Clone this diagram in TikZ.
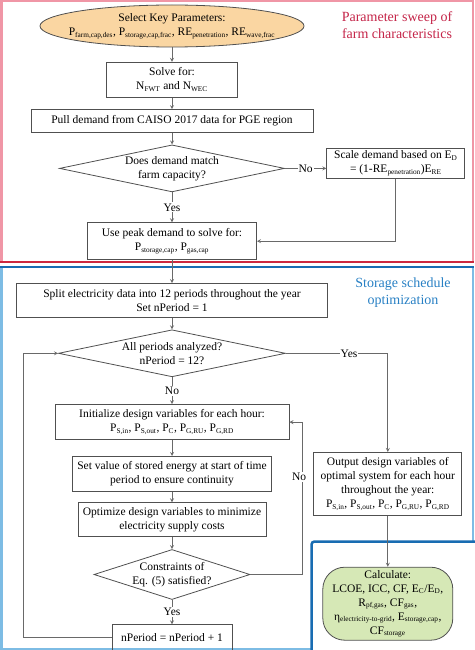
\documentclass[tikz,border=0pt]{standalone}
\usepackage{fontspec}
\setmainfont{Liberation Serif}
\usepackage{tikz}
\usetikzlibrary{shapes.geometric, arrows, positioning, calc}

\definecolor{boxline}{RGB}{80,80,80}
\definecolor{arrowgray}{RGB}{105,105,105}
\definecolor{paramfill}{RGB}{250,214,162}
\definecolor{calcfill}{RGB}{214,232,182}
\definecolor{sweeppink}{RGB}{240,150,166}
\definecolor{sweepred}{RGB}{204,40,62}
\definecolor{sweeptext}{RGB}{196,36,72}
\definecolor{optlight}{RGB}{125,188,228}
\definecolor{optdark}{RGB}{24,108,178}
\definecolor{opttext}{RGB}{40,128,196}

\newcommand{\subtxt}[1]{\textsubscript{\fontsize{7.3}{8}\selectfont #1}}

\begin{document}
\begin{tikzpicture}[
    x=1pt, y=1pt,
    font=\fontsize{11.5}{14}\selectfont,
    box/.style={rectangle, draw=boxline, line width=0.8pt, align=center, inner sep=1pt},
    decision/.style={diamond, draw=boxline, line width=0.8pt, align=center, aspect=4.5, inner xsep=-4pt, inner ysep=-2pt},
    params/.style={ellipse, draw=boxline, line width=0.8pt, fill=paramfill, align=center, inner xsep=-26pt, inner ysep=-4pt},
    calcbox/.style={rectangle, rounded corners=22pt, draw=boxline, line width=0.8pt, fill=calcfill, align=center, inner sep=1pt},
    arrow/.style={->, >=stealth, draw=arrowgray, line width=0.8pt},
    lbl/.style={fill=white, inner sep=1pt},
    title/.style={font=\fontsize{14}{17}\selectfont, align=center}
]
\useasboundingbox (0,0) rectangle (474,-650);

% Frames
\draw [sweeppink, line width=2.5pt] (1.25,-262) -- (1.25,-1.25) -- (472.75,-1.25) -- (472.75,-262);
\draw [sweepred, line width=2.2pt] (0,-262) -- (474,-262);
\draw [optlight, line width=2.5pt] (311.5,-648.75) -- (1.25,-648.75) -- (1.25,-267);
\draw [optlight, line width=2.5pt] (472.75,-267) -- (472.75,-541.5);
\draw [optdark, line width=2.2pt] (0,-267) -- (474,-267);
\draw [optdark, line width=2.5pt, rounded corners=3pt] (311.5,-652) -- (311.5,-541.5) -- (476,-541.5);

\node (sweeptitle) [title, text=sweeptext] at (397,-25.5) {Parameter sweep of\\ farm characteristics};
\node (opttitle) [title, text=opttext] at (403,-293) {Storage schedule\\ optimization};

% Parameter sweep
\node (select) [params, minimum width=264pt, minimum height=42pt] at (172,-26) {Select Key Parameters:\\ P\subtxt{farm,cap,des}, P\subtxt{storage,cap,frac}, RE\subtxt{penetration}, RE\subtxt{wave,frac}};
\node (solve) [box, below=14.5pt of select, minimum width=131pt, minimum height=35pt] {Solve for:\\ N\subtxt{FWT} and N\subtxt{WEC}};
\node (pull) [box, below=11.5pt of solve, minimum width=282pt, minimum height=23pt] {Pull demand from CAISO 2017 data for PGE region};
\node (match) [decision, below=11.5pt of pull, minimum width=225pt, minimum height=47pt] {Does demand match\\ farm capacity?};
\node (scale) [box, right=41.5pt of match, yshift=5pt, minimum width=138pt, minimum height=30pt] {Scale demand based on E\subtxt{D}\\ = (1-RE\subtxt{penetration})E\subtxt{RE}};
\node (peak) [box, below=30pt of match, minimum width=169pt, minimum height=37pt] {Use peak demand to solve for:\\ P\subtxt{storage,cap}, P\subtxt{gas,cap}};

% Storage schedule
\node (split) [box, below=23pt of peak, minimum width=311pt, minimum height=34pt] {Split electricity data into 12 periods throughout the year\\ Set nPeriod = 1};
\node (allper) [decision, below=11.5pt of split, minimum width=227pt, minimum height=47pt] {All periods analyzed?\\ nPeriod = 12?};
\node (init) [box, below=27pt of allper, minimum width=234pt, minimum height=35pt] {Initialize design variables for each hour:\\ P\subtxt{S,in}, P\subtxt{S,out}, P\subtxt{C}, P\subtxt{G,RU}, P\subtxt{G,RD}};
\node (setval) [box, below=16pt of init, minimum width=199pt, minimum height=35pt] {Set value of stored energy at start of time\\ period to ensure continuity};
\node (optim) [box, below=10.5pt of setval, minimum width=188pt, minimum height=34pt] {Optimize design variables to minimize\\ electricity supply costs};
\node (constr) [decision, aspect=3, below=12pt of optim, minimum width=156pt, minimum height=50pt] {Constraints of\\ Eq. (5) satisfied?};
\node (incr) [box, below=24.5pt of constr, minimum width=120pt, minimum height=26pt] {nPeriod = nPeriod + 1};
\node (output) [box, right=41.5pt of setval, yshift=-10pt, minimum width=148pt, minimum height=63pt] {Output design variables of\\ optimal system for each hour\\ throughout the year:\\ P\subtxt{S,in}, P\subtxt{S,out}, P\subtxt{C}, P\subtxt{G,RU}, P\subtxt{G,RD}};
\node (calc) [calcbox, below=51pt of output, minimum width=130pt, minimum height=73pt] {Calculate:\\ LCOE, ICC, CF, E\subtxt{C}/E\subtxt{D},\\ R\subtxt{pf,gas}, CF\subtxt{gas},\\ η\subtxt{electricity-to-grid}, E\subtxt{storage,cap},\\ CF\subtxt{storage}};

% Connections
\draw [arrow] (select) -- (solve);
\draw [arrow] (solve) -- (pull);
\draw [arrow] (pull) -- (match);
\draw [arrow] (match.east) -- node[lbl] {No} (match.east -| scale.west);
\draw [arrow] (match) -- node[lbl] {Yes} (peak);
\draw [arrow] (scale.south) |- (peak.east);
\draw [arrow] (peak) -- (split);
\draw [arrow] (split) -- (allper);
\draw [arrow] (allper) -- node[lbl] {No} (init);
\draw [arrow] (allper.east) -| node[lbl, pos=0.31] {Yes} (output.north);
\draw [arrow] (init) -- (setval);
\draw [arrow] (setval) -- (optim);
\draw [arrow] (optim) -- (constr);
\draw [arrow] (constr) -- node[lbl] {Yes} (incr);
\draw [arrow] (constr.east) -| node[lbl, pos=0.82, xshift=-3pt] {No} ([xshift=12.7pt]init.east) -- (init.east);
\draw [arrow] (incr.west) -| ([xshift=-35pt]allper.west) -- (allper.west);
\draw [arrow] (output) -- (calc);

\end{tikzpicture}
\end{document}
